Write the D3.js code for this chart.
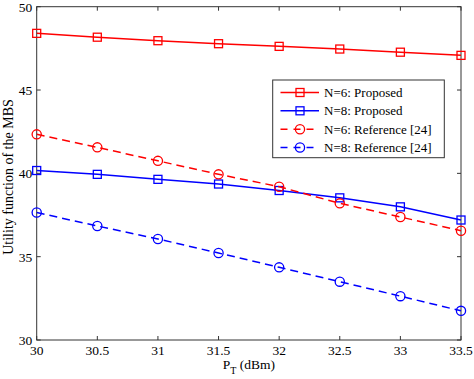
<!DOCTYPE html>
<html><head><meta charset="utf-8">
<script src="https://cdn.jsdelivr.net/npm/d3@7"></script>
<style>body{margin:0;background:#fff}svg{display:block}text{font-family:"Liberation Serif","Times New Roman",serif}</style>
</head><body><svg id="c" width="474" height="379"></svg>
<script>
const xValues = [30, 30.5, 31, 31.5, 32, 32.5, 33, 33.5];
const n6Proposed = [48.4, 48.17, 47.96, 47.78, 47.62, 47.46, 47.27, 47.08];
const n8Proposed = [40.17, 39.94, 39.64, 39.36, 38.97, 38.53, 37.99, 37.2];
const n6Reference = [42.34, 41.56, 40.75, 39.94, 39.2, 38.2, 37.38, 36.56];
const n8Reference = [37.65, 36.84, 36.06, 35.22, 34.36, 33.5, 32.63, 31.75];
const xTicks = [30, 30.5, 31, 31.5, 32, 32.5, 33, 33.5];
const yTicks = [30, 35, 40, 45, 50];
const seriesNames = ["N=6: Proposed", "N=8: Proposed", "N=6: Reference [24]", "N=8: Reference [24]"];

const series = [
  {name: seriesNames[0], values: n6Proposed, color: "#ff0000", dash: null, marker: "square"},
  {name: seriesNames[1], values: n8Proposed, color: "#0000ff", dash: null, marker: "square"},
  {name: seriesNames[2], values: n6Reference, color: "#ff0000", dash: "8,5", marker: "circle"},
  {name: seriesNames[3], values: n8Reference, color: "#0000ff", dash: "8,5", marker: "circle"}
];

const svg = d3.select("#c");
const L = 36.7, R = 461, T = 6.7, B = 340;
const x = d3.scaleLinear().domain([30, 33.5]).range([L, R]);
const y = d3.scaleLinear().domain([30, 50]).range([B, T]);
const axisColor = "#333";

svg.append("rect").attr("x", L).attr("y", T).attr("width", R - L).attr("height", B - T)
  .attr("fill", "none").attr("stroke", axisColor).attr("stroke-width", 1);

const tl = 4;
const gx = svg.append("g");
xTicks.forEach(v => {
  gx.append("line").attr("x1", x(v)).attr("x2", x(v)).attr("y1", B).attr("y2", B - tl).attr("stroke", axisColor);
  gx.append("line").attr("x1", x(v)).attr("x2", x(v)).attr("y1", T).attr("y2", T + tl).attr("stroke", axisColor);
  gx.append("text").attr("x", x(v)).attr("y", B + 15).attr("text-anchor", "middle")
    .attr("font-size", 13.5).attr("fill", "#000").text(v);
});
yTicks.forEach(v => {
  gx.append("line").attr("x1", L).attr("x2", L + tl).attr("y1", y(v)).attr("y2", y(v)).attr("stroke", axisColor);
  gx.append("line").attr("x1", R).attr("x2", R - tl).attr("y1", y(v)).attr("y2", y(v)).attr("stroke", axisColor);
  gx.append("text").attr("x", L - 4.5).attr("y", y(v) + 5).attr("text-anchor", "end")
    .attr("font-size", 13.5).attr("fill", "#000").text(v);
});

const xl = svg.append("text").attr("x", (L + R) / 2).attr("y", 369).attr("text-anchor", "middle")
  .attr("font-size", 13.5).attr("fill", "#000");
xl.append("tspan").text("P");
xl.append("tspan").attr("font-size", 10).attr("dy", 5).text("T");
xl.append("tspan").attr("dy", -5).text(" (dBm)");

svg.append("text").attr("transform", `translate(12.5,177) rotate(-90)`)
  .attr("text-anchor", "middle").attr("font-size", 14).attr("fill", "#000")
  .text("Utility function of the MBS");

const line = d3.line().x((d, i) => x(xValues[i])).y(d => y(d));

function drawMarker(g, type, cx, cy, color) {
  if (type === "square") {
    g.append("rect").attr("x", cx - 4).attr("y", cy - 4).attr("width", 8).attr("height", 8)
      .attr("fill", "none").attr("stroke", color).attr("stroke-width", 1.3);
  } else {
    g.append("circle").attr("cx", cx).attr("cy", cy).attr("r", 4.6)
      .attr("fill", "none").attr("stroke", color).attr("stroke-width", 1.3);
  }
}

series.forEach(s => {
  const g = svg.append("g");
  g.append("path").attr("d", line(s.values)).attr("fill", "none").attr("stroke", s.color)
    .attr("stroke-width", 1.5).attr("stroke-dasharray", s.dash);
  s.values.forEach((v, i) => drawMarker(g, s.marker, x(xValues[i]), y(v), s.color));
});

const lg = svg.append("g");
lg.append("rect").attr("x", 272.7).attr("y", 80).attr("width", 171.6).attr("height", 77.7)
  .attr("fill", "#fff").attr("stroke", "#333").attr("stroke-width", 1);
const rowY = [92.5, 110.8, 129.2, 147.5];
series.forEach((s, i) => {
  const yy = rowY[i];
  lg.append("line").attr("x1", 280.5).attr("x2", 319).attr("y1", yy).attr("y2", yy)
    .attr("stroke", s.color).attr("stroke-width", 1.5).attr("stroke-dasharray", s.dash ? "7,6" : null);
  drawMarker(lg, s.marker, 300, yy, s.color);
  lg.append("text").attr("x", 324).attr("y", yy + 4.5).attr("font-size", 13).attr("fill", "#000").text(s.name);
});
</script></body></html>
